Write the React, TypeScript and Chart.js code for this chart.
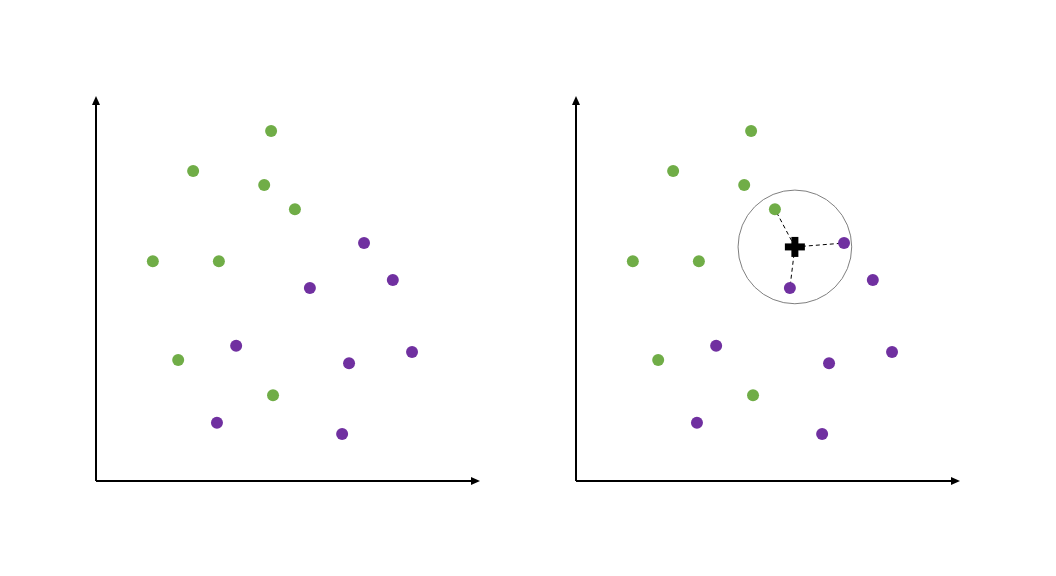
import React, { useEffect, useRef } from "react";
import { Chart, registerables } from "chart.js";

Chart.register(...registerables);

const greenX = [4.56, 2.53, 4.38, 5.18, 1.48, 3.2, 2.14, 4.61];
const greenY = [9.09, 8.05, 7.69, 7.06, 5.71, 5.71, 3.14, 2.23];
const purpleX = [6.98, 7.73, 5.57, 3.65, 6.59, 8.23, 3.15, 6.41];
const purpleY = [6.18, 5.22, 5.01, 3.51, 3.06, 3.35, 1.51, 1.22];
const queryPoint = { x: 5.7, y: 6.08 };
const neighbourIdx = [
  { set: "green", i: 3 },
  { set: "purple", i: 0 },
  { set: "purple", i: 2 },
];
const neighbourRadius = 1.48;

const GREEN = "#70AD47";
const PURPLE = "#7030A0";

function toPts(xs: number[], ys: number[]) {
  return xs.map((x, i) => ({ x, y: ys[i] }));
}

const axesPlugin = {
  id: "arrowAxes",
  afterDraw(chart: any) {
    const { ctx, chartArea } = chart;
    const { left, right, top, bottom } = chartArea;
    ctx.save();
    ctx.strokeStyle = "#000";
    ctx.fillStyle = "#000";
    ctx.lineWidth = 2;
    ctx.beginPath();
    ctx.moveTo(left, bottom);
    ctx.lineTo(right - 6, bottom);
    ctx.moveTo(left, bottom);
    ctx.lineTo(left, top + 6);
    ctx.stroke();
    ctx.beginPath();
    ctx.moveTo(right, bottom);
    ctx.lineTo(right - 9, bottom - 4);
    ctx.lineTo(right - 9, bottom + 4);
    ctx.closePath();
    ctx.fill();
    ctx.beginPath();
    ctx.moveTo(left, top);
    ctx.lineTo(left - 4, top + 9);
    ctx.lineTo(left + 4, top + 9);
    ctx.closePath();
    ctx.fill();
    ctx.restore();
  },
};

const knnPlugin = {
  id: "knn",
  beforeDatasetsDraw(chart: any) {
    const { ctx, scales } = chart;
    const xs = scales.x;
    const ys = scales.y;
    const cx = xs.getPixelForValue(queryPoint.x);
    const cy = ys.getPixelForValue(queryPoint.y);
    const r = xs.getPixelForValue(queryPoint.x + neighbourRadius) - cx;
    ctx.save();
    ctx.strokeStyle = "#7f7f7f";
    ctx.lineWidth = 1;
    ctx.beginPath();
    ctx.arc(cx, cy, r, 0, Math.PI * 2);
    ctx.stroke();
    ctx.strokeStyle = "#000";
    ctx.setLineDash([4, 3]);
    neighbourIdx.forEach((n) => {
      const px = n.set === "green" ? greenX[n.i] : purpleX[n.i];
      const py = n.set === "green" ? greenY[n.i] : purpleY[n.i];
      ctx.beginPath();
      ctx.moveTo(cx, cy);
      ctx.lineTo(xs.getPixelForValue(px), ys.getPixelForValue(py));
      ctx.stroke();
    });
    ctx.restore();
  },
  afterDatasetsDraw(chart: any) {
    const { ctx, scales } = chart;
    const cx = scales.x.getPixelForValue(queryPoint.x);
    const cy = scales.y.getPixelForValue(queryPoint.y);
    ctx.save();
    ctx.fillStyle = "#000";
    ctx.fillRect(cx - 10, cy - 3.5, 20, 7);
    ctx.fillRect(cx - 3.5, cy - 10, 7, 20);
    ctx.restore();
  },
};

function Panel({ knn, padLeft, padRight }: { knn: boolean; padLeft: number; padRight: number }) {
  const ref = useRef<HTMLCanvasElement>(null);
  useEffect(() => {
    if (!ref.current) return;
    const chart = new Chart(ref.current, {
      type: "scatter",
      data: {
        datasets: [
          {
            data: toPts(greenX, greenY),
            backgroundColor: GREEN,
            borderColor: GREEN,
            pointRadius: 6,
            pointBorderWidth: 0,
          },
          {
            data: toPts(purpleX, purpleY),
            backgroundColor: PURPLE,
            borderColor: PURPLE,
            pointRadius: 6,
            pointBorderWidth: 0,
          },
        ],
      },
      options: {
        animation: false,
        responsive: false,
        events: [],
        layout: { padding: { left: padLeft, right: padRight, top: 96, bottom: 95 } },
        plugins: { legend: { display: false }, tooltip: { enabled: false } },
        scales: {
          x: { type: "linear", min: 0, max: 10, display: false },
          y: { type: "linear", min: 0, max: 10, display: false },
        },
      },
      plugins: knn ? [axesPlugin, knnPlugin] : [axesPlugin],
    } as any);
    return () => chart.destroy();
  }, []);
  return <canvas ref={ref} width={528} height={576} style={{ display: "block" }} />;
}

export default function App() {
  return (
    <div style={{ position: "fixed", left: 0, top: 0, width: 1056, height: 576, display: "flex", background: "#fff" }}>
      <Panel knn={false} padLeft={96} padRight={48} />
      <Panel knn={true} padLeft={48} padRight={96} />
    </div>
  );
}
